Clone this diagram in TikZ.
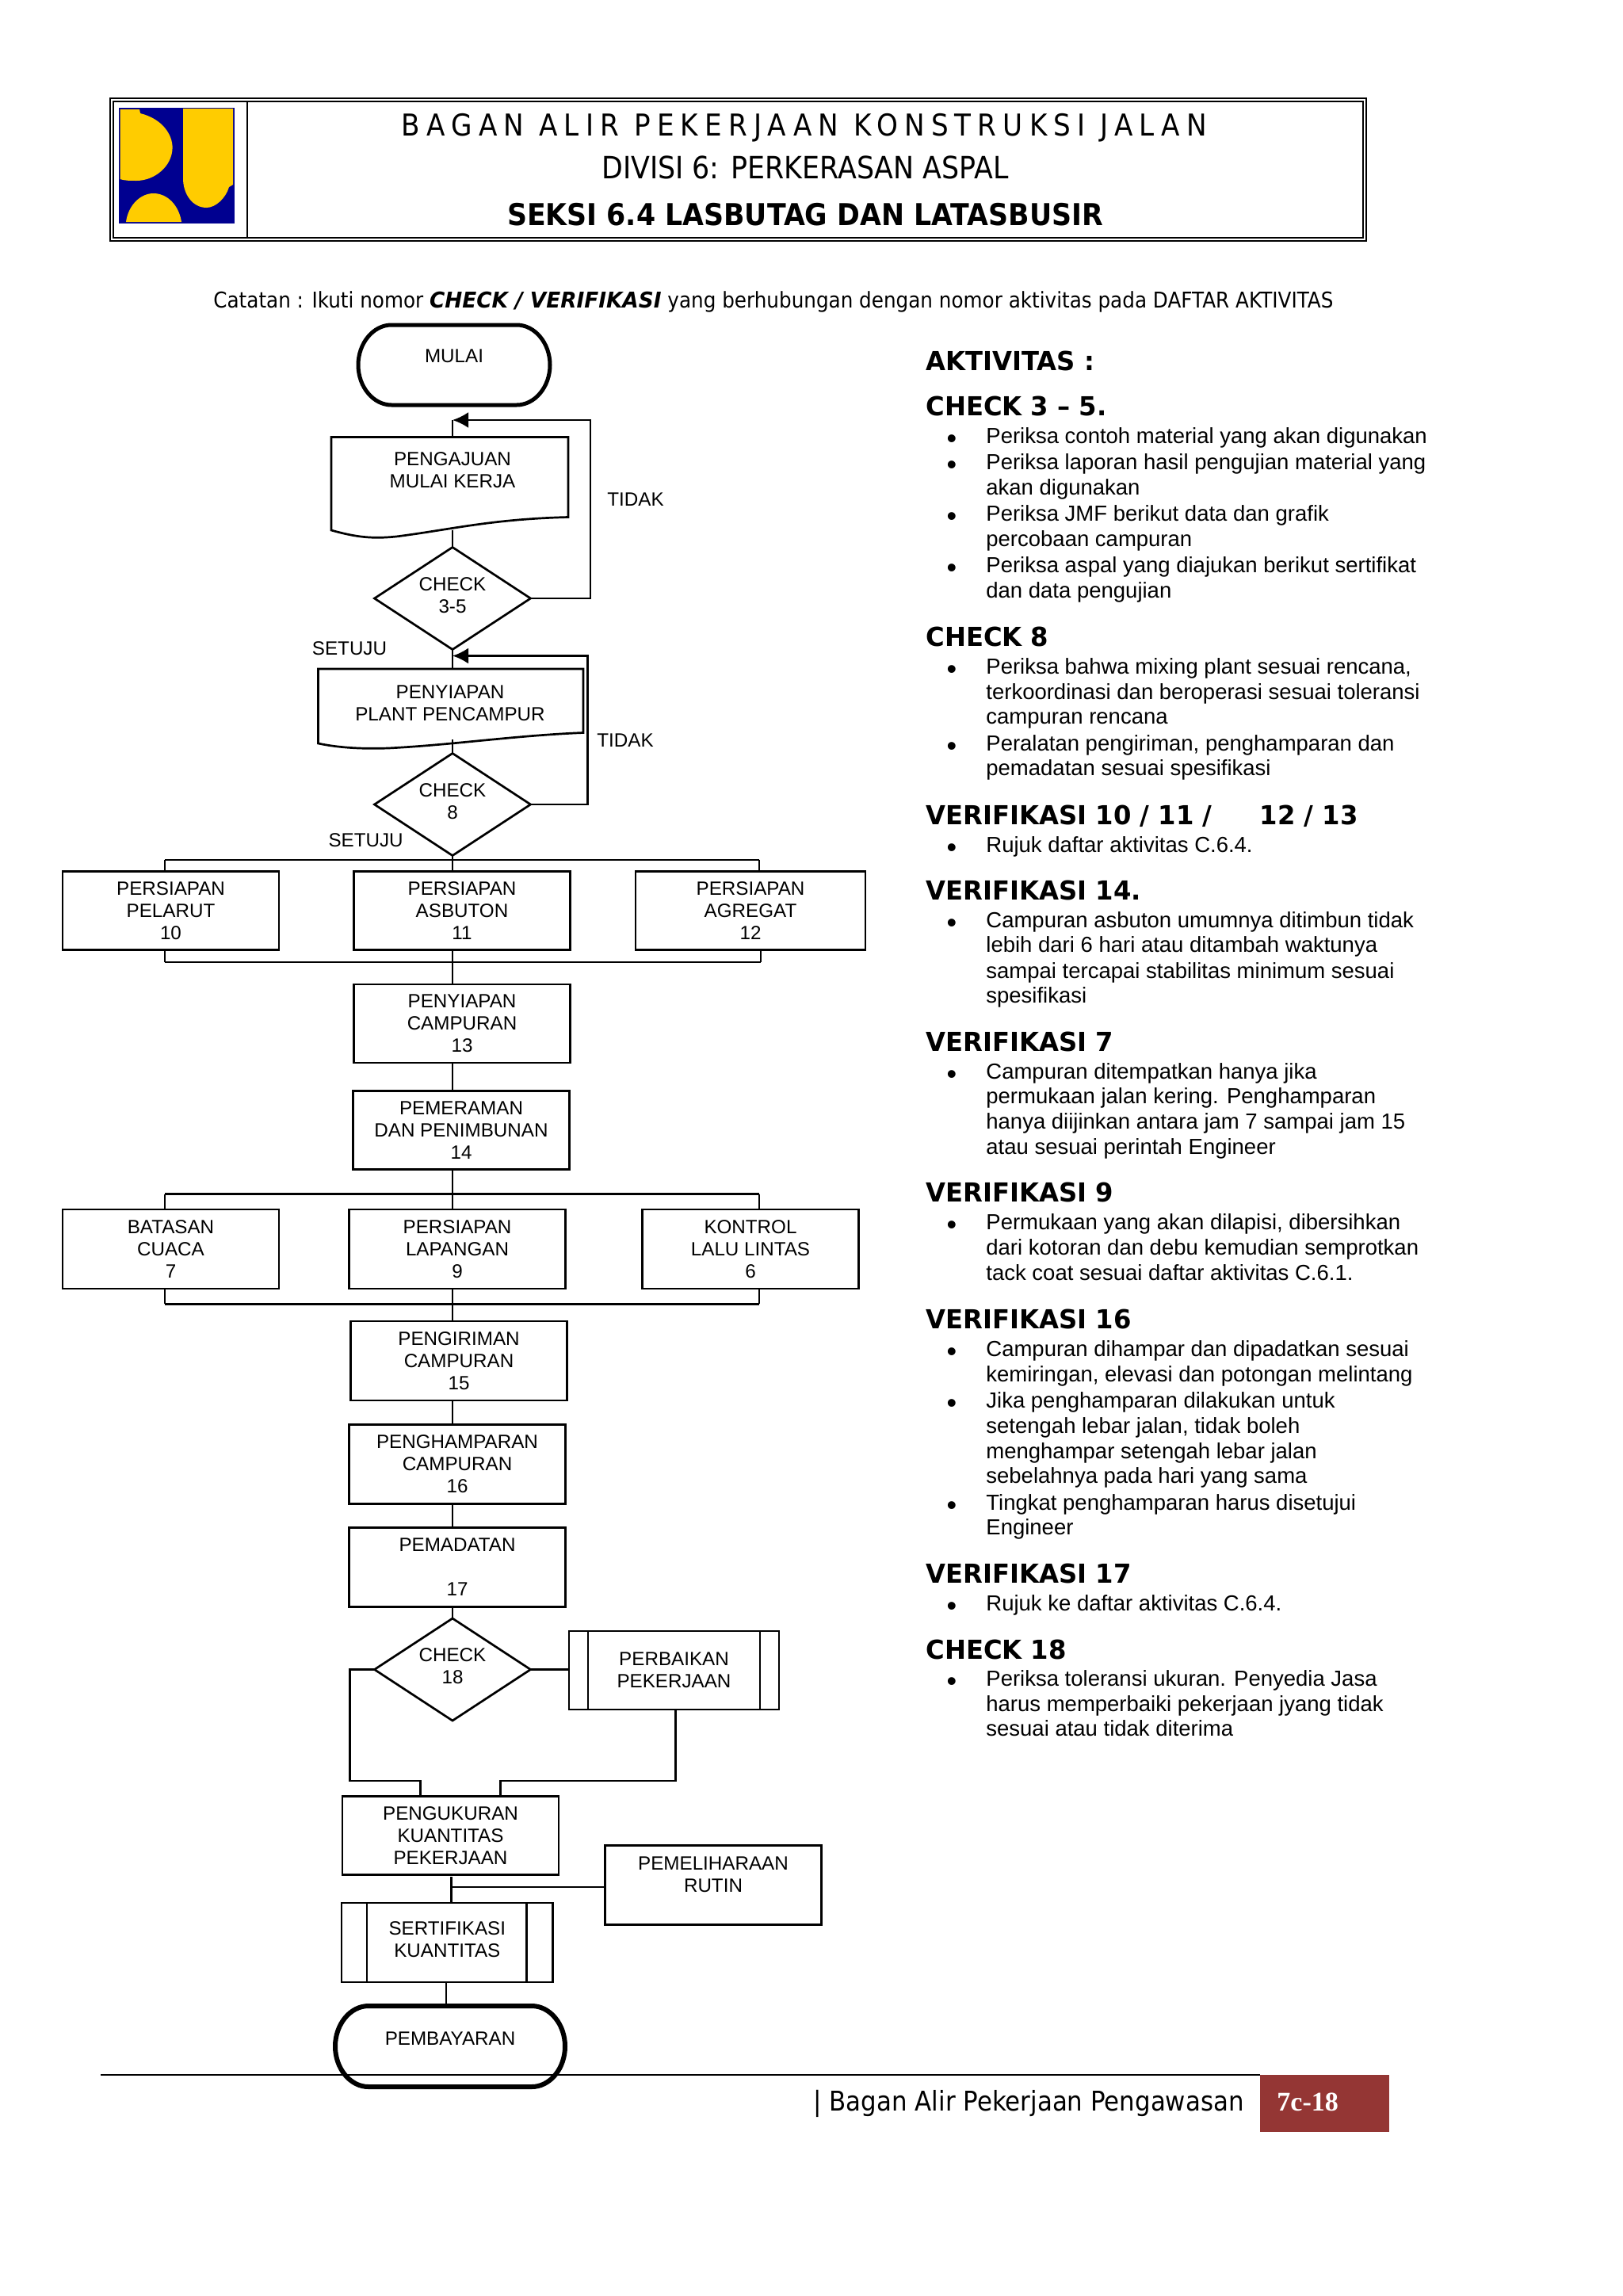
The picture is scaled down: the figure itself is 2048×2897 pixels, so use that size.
\documentclass[tikz,border=0pt]{standalone}
\usepackage{fontspec}
\usetikzlibrary{shapes.geometric,arrows.meta}
\setmainfont{Liberation Sans}
\newfontfamily\tah{DejaVu Sans}[FakeStretch=0.9]
\newfontfamily\tahb{DejaVu Sans}[FakeStretch=0.977]
\newfontfamily\tahi{DejaVu Sans}[FakeStretch=0.96]
\newfontfamily\tahc{DejaVu Sans}[FakeStretch=0.914]
\newfontfamily\tahsp{DejaVu Sans}[FakeStretch=0.9,LetterSpace=21.5]
\newfontfamily\tms{Liberation Serif}
\definecolor{logoblue}{HTML}{000090}
\definecolor{logoyel}{HTML}{FFCC00}
\definecolor{pagered}{HTML}{943634}
\tikzset{
  ln/.style={line width=1.35pt,line join=miter},
  lab/.style={font=\fontsize{12.1}{14}\selectfont,align=center,inner sep=0pt,outer sep=0pt},
  boxx/.style={lab,draw,ln,minimum width=136.5pt,minimum height=49.5pt},
  sbox/.style={lab,draw,ln,minimum width=136.5pt,minimum height=50pt},
  term/.style={lab},
  dia/.style={lab,draw,ln,diamond,aspect=1.5,minimum width=98.5pt,minimum height=64.5pt,text depth=4pt},
  bodyt/.style={anchor=base west,inner sep=0pt,font=\fontsize{13.75}{15}\selectfont},
  bul/.style={anchor=base,inner sep=0pt,yshift=-3pt,font=\fontsize{18}{18}\selectfont},
  headt/.style={anchor=base west,inner sep=0pt,font=\tahb\bfseries\fontsize{16.5}{18}\selectfont},
  htitle/.style={anchor=base,inner sep=0pt},
  arr/.style={ln,-{Latex[length=10pt,width=10pt]}},
}
\begin{document}
\begin{tikzpicture}[x=0.5pt,y=-0.5pt]
\useasboundingbox (0,0) rectangle (2048,2897);
% header
\draw[line width=1.3pt] (139,124) rectangle (1724,304);
\draw[line width=1.1pt] (143,128) rectangle (1720,300);
\draw[line width=1.1pt] (312,128) -- (312,300);
\fill[logoblue] (150,135.7) rectangle (296,281.7);
\fill[logoyel] (151.5,138) -- (176,138) -- (177,143) .. controls (205,150) and (218,170) .. (217.6,187)
  .. controls (217,210) and (195,228) .. (172,228) .. controls (165,228) and (157,228) .. (151.5,226) -- cycle;
\fill[logoyel] (231,137) -- (294,137) -- (294,233) -- (289,236) .. controls (285,250) and (272,262) .. (260.6,262)
  .. controls (243,262) and (231,245) .. (231,225) -- cycle;
\fill[logoyel] (159,280) .. controls (162,258) and (178,244) .. (193.5,244) .. controls (212,244) and (226,260) .. (229,280) -- cycle;
\node[htitle,font=\tahsp\fontsize{19}{21}\selectfont] (t1) at (1015,171) {BAGAN ALIR PEKERJAAN KONSTRUKSI JALAN};
\node[htitle,font=\tah\fontsize{19.35}{21}\selectfont] (t2) at (1016,225.7) {DIVISI 6: PERKERASAN ASPAL};
\node[htitle,font=\tahc\bfseries\fontsize{19}{21}\selectfont] (t3) at (1016,284) {SEKSI 6.4 LASBUTAG DAN LATASBUSIR};
\node[anchor=base west,inner sep=0pt,font=\tah\fontsize{13.7}{15}\selectfont] (cat) at (269,388)
  {Catatan : Ikuti nomor {\tahi\bfseries\itshape CHECK / VERIFIKASI} yang berhubungan dengan nomor aktivitas pada DAFTAR AKTIVITAS};
% flowchart
\node[term,minimum width=121pt,minimum height=50.5pt] (mulai) at (573,460.5) {MULAI\\[-3pt]~};
\draw[line width=2.5pt] (494,410) -- (652,410) .. controls (675,410) and (694,433) .. (694,460.5)
  .. controls (694,488) and (675,511) .. (652,511) -- (494,511) .. controls (471,511) and (452,488) .. (452,460.5)
  .. controls (452,433) and (471,410) .. (494,410) -- cycle;
\coordinate (loop1) at (571,530);
\coordinate (d1top) at (571,551.5);
\coordinate (d1bot) at (571,669);
\draw[ln] (418,551.5) -- (717,551.5) -- (717,652.5) .. controls (620,655) and (570,668) .. (500,677)
  .. controls (470,680) and (450,678) .. (418,669) -- cycle;
\node[lab] (doc1) at (571,593.6) {PENGAJUAN\\MULAI KERJA};
\node[dia] (d1) at (571,755) {CHECK\\3-5};
\draw[ln] (loop1) -- (d1top);
\draw[ln] (d1bot) -- (d1.north);
\draw[arr] (d1.east) -- (745,755) -- (745,530) -- (loop1);
\node[lab] (tid1) at (802,630) {TIDAK};
\node[lab] (set1) at (441,818) {SETUJU};
\coordinate (loop2) at (571,827.5);
\coordinate (d2top) at (571,844);
\coordinate (d2bot) at (571,933);
\draw[ln] (401.5,844) -- (736,844) -- (736,924.5) .. controls (650,928) and (570,940) .. (490,944)
  .. controls (460,945) and (430,944) .. (401.5,938) -- cycle;
\node[lab] (doc2) at (568,887.5) {PENYIAPAN\\PLANT PENCAMPUR};
\node[dia] (d2) at (571,1015) {CHECK\\8};
\draw[ln] (d1.south) -- (d2top);
\draw[ln] (d2bot) -- (d2.north);
\draw[arr] (d2.east) -- (741.6,1015) -- (741.6,827.5) -- (loop2);
\node[lab] (tid2) at (789,934) {TIDAK};
\node[lab] (set2) at (461.6,1060) {SETUJU};
% row 1
\node[boxx] (b10) at (215.5,1149) {PERSIAPAN\\PELARUT\\10};
\node[boxx] (b11) at (583,1149) {PERSIAPAN\\ASBUTON\\11};
\node[boxx,minimum width=145pt] (b12) at (947,1149) {PERSIAPAN\\AGREGAT\\12};
\coordinate (ba) at (208,1085); \coordinate (bb) at (571,1085); \coordinate (bc) at (958,1085);
\coordinate (ca) at (208,1214); \coordinate (cb) at (571,1214); \coordinate (cc) at (960,1214);
\draw[ln] (ba) -- (bc);
\draw[ln] (ca) -- (cc);
\draw[ln] (d2.south) -- (bb |- b11.north);
\draw[ln] (ba) -- (ba |- b10.north);
\draw[ln] (bc) -- (bc |- b12.north);
\draw[ln] (ca) -- (ca |- b10.south);
\draw[ln] (cc) -- (cc |- b12.south);
\node[boxx] (b13) at (583,1291.5) {PENYIAPAN\\CAMPURAN\\13};
\node[boxx] (b14) at (582,1425.7) {PEMERAMAN\\DAN PENIMBUNAN\\14};
\draw[ln] (cb |- b11.south) -- (cb |- b13.north);
\draw[ln] (cb |- b13.south) -- (cb |- b14.north);
% row 2
\node[sbox] (b7) at (215.5,1576) {BATASAN\\CUACA\\7};
\node[sbox] (b9) at (577,1576) {PERSIAPAN\\LAPANGAN\\9};
\node[sbox] (b6) at (947,1576) {KONTROL\\LALU LINTAS\\6};
\coordinate (ea) at (208,1506.6); \coordinate (eb) at (571,1506.6); \coordinate (ec) at (958,1506.6);
\coordinate (fa) at (208,1645.4); \coordinate (fb) at (571,1645.4); \coordinate (fc) at (958,1645.4);
\draw[ln] (ea) -- (ec);
\draw[ln] (fa) -- (fc);
\draw[ln] (eb |- b14.south) -- (eb |- b9.north);
\draw[ln] (ea) -- (ea |- b7.north);
\draw[ln] (ec) -- (ec |- b6.north);
\draw[ln] (fa) -- (fa |- b7.south);
\draw[ln] (fc) -- (fc |- b6.south);
\node[sbox] (b15) at (579,1717) {PENGIRIMAN\\CAMPURAN\\15};
\node[sbox] (b16) at (577,1847.5) {PENGHAMPARAN\\CAMPURAN\\16};
\node[sbox] (b17) at (577,1977.5) {PEMADATAN\\~\\17};
\draw[ln] (fb |- b9.south) -- (fb |- b15.north);
\draw[ln] (fb |- b15.south) -- (fb |- b16.north);
\draw[ln] (fb |- b16.south) -- (fb |- b17.north);
\node[dia] (d3) at (571,2106.5) {CHECK\\18};
\draw[ln] (d3.north |- b17.south) -- (d3.north);
\node[boxx,minimum width=132.5pt] (perb) at (850.5,2107.5) {PERBAIKAN\\PEKERJAAN};
\draw[ln] ([xshift=12pt]perb.north west) -- ([xshift=12pt]perb.south west);
\draw[ln] ([xshift=-12pt]perb.north east) -- ([xshift=-12pt]perb.south east);
\draw[ln] (d3.east) -- (d3.east -| perb.west);
\node[boxx] (b18) at (568.5,2315.7) {PENGUKURAN\\KUANTITAS\\PEKERJAAN};
\coordinate (g1) at (441.6,2247); \coordinate (g2) at (530.6,2247);
\coordinate (g3) at (631.5,2247); \coordinate (g4) at (852.7,2247);
\draw[ln] (d3.west) -- (g1 |- d3.west) -- (g1) -- (g2) -- (g2 |- b18.north);
\draw[ln] (g4 |- perb.south) -- (g4) -- (g3) -- (g3 |- b18.north);
\node[boxx,minimum height=50pt] (pem) at (900,2378.7) {PEMELIHARAAN\\RUTIN\\~};
\node[boxx,minimum width=133.3pt,minimum height=50pt,text depth=3.5pt] (sert) at (564.3,2451) {SERTIFIKASI\\KUANTITAS};
\draw[ln] ([xshift=16pt]sert.north west) -- ([xshift=16pt]sert.south west);
\draw[ln] ([xshift=-16.5pt]sert.north east) -- ([xshift=-16.5pt]sert.south east);
\coordinate (h1) at (569.6,2368);
\coordinate (h2) at (569.6,2381);
\draw[ln] (h1) -- (h1 |- sert.north);
\draw[ln] (h2) -- (h2 -| pem.west);
\node[term,minimum width=145pt,minimum height=51pt] (pay) at (568,2582) {PEMBAYARAN\\[-4pt]~};
\draw[line width=3pt] (465,2531) -- (671,2531) .. controls (694,2531) and (713,2554) .. (713,2582)
  .. controls (713,2610) and (694,2633) .. (671,2633) -- (465,2633) .. controls (442,2633) and (423,2610) .. (423,2582)
  .. controls (423,2554) and (442,2531) .. (465,2531) -- cycle;
\coordinate (p1) at (563,2501);
\draw[ln] (p1) -- (p1 |- pay.north);
% footer
\coordinate (fl) at (127,2618);
\fill[pagered] (1590,2618) rectangle (1753,2690);
\node[inner sep=0pt,anchor=base west,text=white,font=\tms\bfseries\fontsize{17}{19}\selectfont] (pg) at (1611,2663) {7c-18};
\draw[line width=1.3pt] (fl) -- (1590,2618);
\node[inner sep=0pt,anchor=base east,font=\tah\fontsize{17.15}{18}\selectfont] (foot) at (1570,2663) {| Bagan Alir Pekerjaan Pengawasan};
% right column headings
\foreach \y/\t [count=\i] in {
 467/{AKTIVITAS :}, 524/{CHECK 3 – 5.}, 815.5/{CHECK 8}, 1040/{VERIFIKASI 10 / 11 /\hspace{24.5pt} 12 / 13},
 1135.7/{VERIFIKASI 14.}, 1326/{VERIFIKASI 7}, 1516.5/{VERIFIKASI 9}, 1676/{VERIFIKASI 16},
 1997/{VERIFIKASI 17}, 2093/{CHECK 18}}
  \node[headt] (h\i) at (1168,\y) {\t};
% bullets
\foreach \y [count=\i] in {559.6,592.6,657.6,722.7,850,947,1075,1170.4,1361,1551.6,1711,1776.6,1905,2032.6,2127.5}
  \node[bul] (dot\i) at (1201,\y) {•};
% body lines
\foreach \y/\t [count=\i] in {
 559.6/{Periksa contoh material yang akan digunakan},
 592.6/{Periksa laporan hasil pengujian material yang},
 624/{akan digunakan},
 657.6/{Periksa JMF berikut data dan grafik},
 689.7/{percobaan campuran},
 722.7/{Periksa aspal yang diajukan berikut sertifikat},
 754.8/{dan data pengujian},
 850/{Periksa bahwa mixing plant sesuai rencana,},
 882/{terkoordinasi dan beroperasi sesuai toleransi},
 913.5/{campuran rencana},
 947/{Peralatan pengiriman, penghamparan dan},
 978.5/{pemadatan sesuai spesifikasi},
 1075/{Rujuk daftar aktivitas C.6.4.},
 1170.4/{Campuran asbuton umumnya ditimbun tidak},
 1201.6/{lebih dari 6 hari atau ditambah waktunya},
 1234/{sampai tercapai stabilitas minimum sesuai},
 1265/{spesifikasi},
 1361/{Campuran ditempatkan hanya jika},
 1392.4/{permukaan jalan kering. Penghamparan},
 1424/{hanya diijinkan antara jam 7 sampai jam 15},
 1456/{atau sesuai perintah Engineer},
 1551.6/{Permukaan yang akan dilapisi, dibersihkan},
 1583/{dari kotoran dan debu kemudian semprotkan},
 1615/{tack coat sesuai daftar aktivitas C.6.1.},
 1711/{Campuran dihampar dan dipadatkan sesuai},
 1743/{kemiringan, elevasi dan potongan melintang},
 1776.6/{Jika penghamparan dilakukan untuk},
 1808/{setengah lebar jalan, tidak boleh},
 1840/{menghampar setengah lebar jalan},
 1871/{sebelahnya pada hari yang sama},
 1905/{Tingkat penghamparan harus disetujui},
 1936/{Engineer},
 2032.6/{Rujuk ke daftar aktivitas C.6.4.},
 2127.5/{Periksa toleransi ukuran. Penyedia Jasa},
 2159/{harus memperbaiki pekerjaan jyang tidak},
 2190.6/{sesuai atau tidak diterima}}
  \node[bodyt] (ln\i) at (1244,\y) {\t};
\end{tikzpicture}
\end{document}
